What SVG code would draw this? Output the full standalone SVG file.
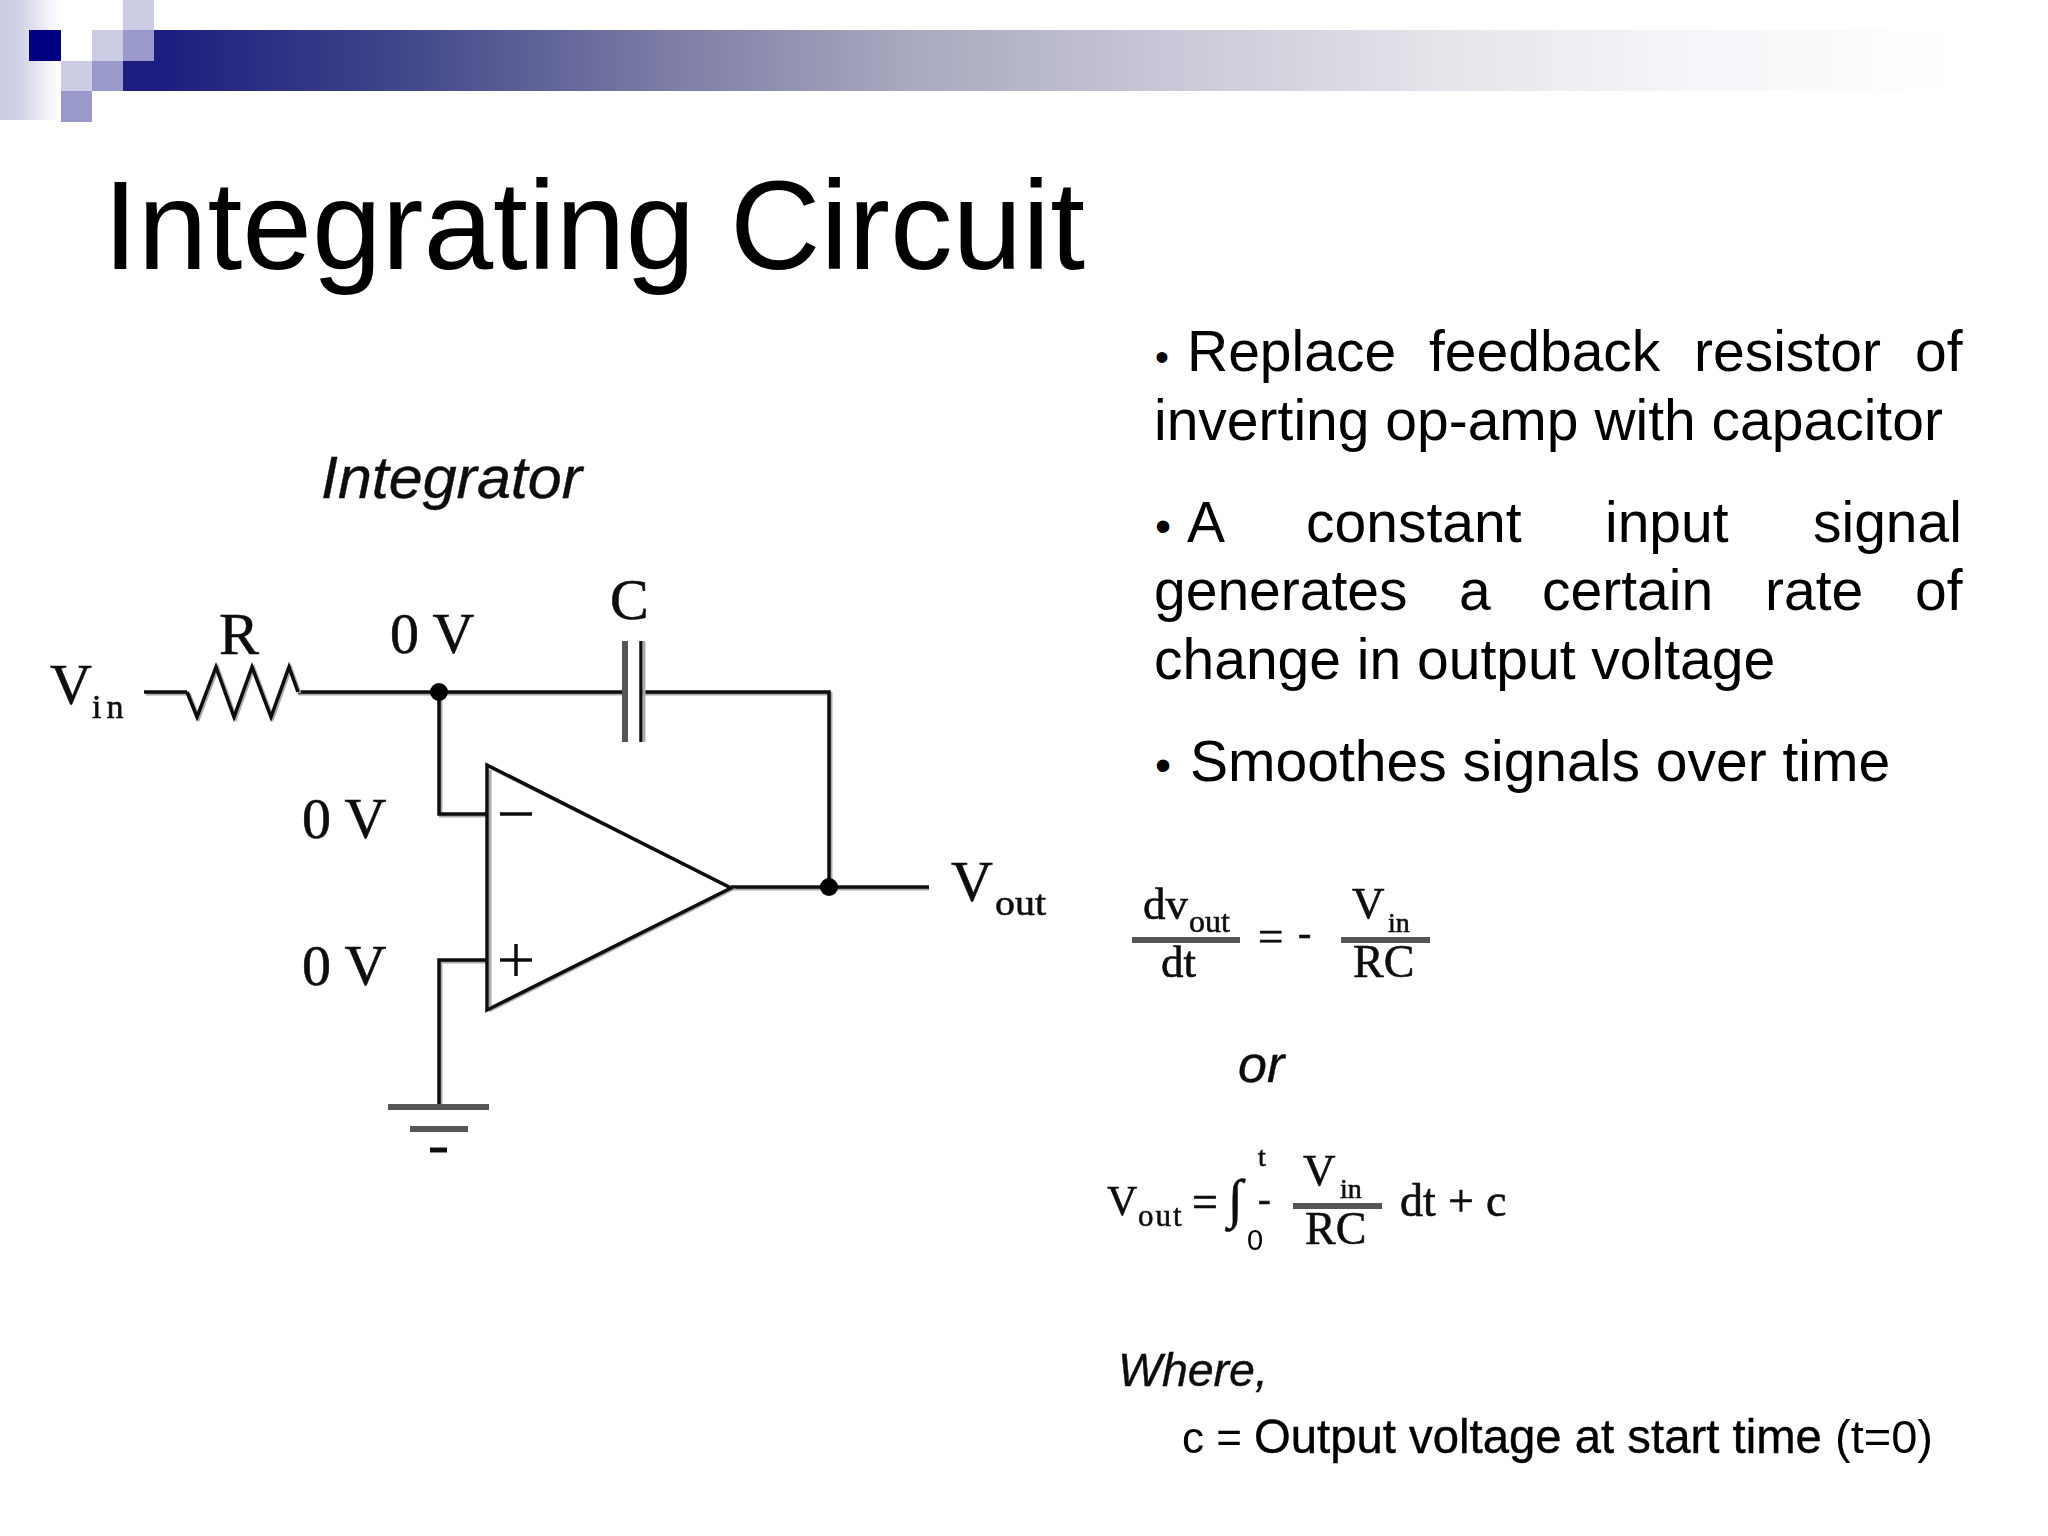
<svg xmlns="http://www.w3.org/2000/svg" width="2048" height="1536" viewBox="0 0 2048 1536">
<style>
.s{font-family:"Liberation Sans",Arial,sans-serif;fill:#000}
.i{font-family:"Liberation Sans",Arial,sans-serif;font-style:italic;fill:#111;stroke:#111;stroke-width:.4}
.t{font-family:"Liberation Serif","Times New Roman",serif;fill:#111;stroke:#111;stroke-width:.6}
.b{font-size:57px}
.w{fill:none;stroke:#0c0c0c;stroke-width:3.5}
.sh{fill:none;stroke:#aaa;stroke-width:3}
.g{fill:none;stroke:#555;stroke-width:6}
</style>
<defs>
<linearGradient id="band" gradientUnits="userSpaceOnUse" x1="123" x2="1960" y1="0" y2="0"><stop offset="0.02" stop-color="#1d1d80"/><stop offset="0.147" stop-color="#3e4588"/><stop offset="0.29" stop-color="#7a7aa5"/><stop offset="0.43" stop-color="#a9a9bf"/><stop offset="0.57" stop-color="#c8c8d8"/><stop offset="0.715" stop-color="#e4e4ea"/><stop offset="0.858" stop-color="#f6f6fa"/><stop offset="1" stop-color="#ffffff"/></linearGradient>
<linearGradient id="fade" x1="0" x2="1" y1="0" y2="0"><stop offset="0" stop-color="#ccccE4"/><stop offset="0.25" stop-color="#ccccE4"/><stop offset="1" stop-color="#ffffff"/></linearGradient>
<filter id="soft" x="-5%" y="-5%" width="110%" height="110%"><feGaussianBlur stdDeviation="0.6"/></filter>
</defs>
<rect width="2048" height="1536" fill="#fff"/>
<g id="header">
<rect x="0" y="0" width="60" height="120" fill="url(#fade)"/>
<rect x="123" y="30" width="1837" height="61" fill="url(#band)"/>
<rect x="29" y="30" width="32" height="31" fill="#000080"/>
<rect x="92" y="30" width="31" height="31" fill="#ccccE4"/>
<rect x="123" y="0" width="31" height="30" fill="#ccccE4"/>
<rect x="123" y="30" width="31" height="31" fill="#9999CC"/>
<rect x="61" y="61" width="31" height="30" fill="#ccccE4"/>
<rect x="92" y="61" width="31" height="30" fill="#9999CC"/>
<rect x="61" y="91" width="31" height="31" fill="#9999CC"/>
</g>
<text id="title" class="s" x="103" y="269" font-size="125.3">Integrating Circuit</text>
<g id="bullets">
<g class="s b">
<text x="1155" y="371" font-size="40">•</text>
<text x="1187" y="371">Replace</text><text x="1429" y="371">feedback</text><text x="1694" y="371">resistor</text><text x="1915" y="371">of</text>
<text x="1154" y="440">inverting op-amp with capacitor</text>
<text x="1155" y="542" font-size="46">•</text>
<text x="1187" y="542">A</text><text x="1306" y="542">constant</text><text x="1605" y="542">input</text><text x="1813" y="542">signal</text>
<text x="1154" y="610">generates</text><text x="1459" y="610">a</text><text x="1542" y="610">certain</text><text x="1765" y="610">rate</text><text x="1915" y="610">of</text>
<text x="1154" y="679">change in output voltage</text>
<text x="1155" y="781" font-size="46">•</text>
<text x="1190" y="781">Smoothes signals over time</text>
</g>
</g>
<g filter="url(#soft)">
<text id="circuit-title" class="i" x="321" y="498" font-size="60" textLength="261" lengthAdjust="spacingAndGlyphs">Integrator</text>
<g id="connectors">
<path class="sh" d="M146 694H187M298 694H624M641 694H829M831 692V887M441 692V814M487 962H441V1106M731 889H929"/>
<path class="sh" d="M439 816H487" stroke-width="5"/>
<path class="w" d="M144 692H187M298 692H624M641 692H829V887M439 692V814H487M487 960H439V1106M731 887H929"/>
</g>
<g id="vin"><text class="t" x="50" y="704" font-size="58">V</text><text class="t" x="92" y="718" font-size="34" letter-spacing="5">in</text></g>
<g id="resistor"><path class="sh" d="M189 693L199 718L218 668L236 718L254 668L273 718L291 668L300 693"/><path class="w" d="M187 692L197 717L216 667L234 717L252 667L271 717L289 667L298 692"/><text class="t" x="219" y="654" font-size="60">R</text></g>
<g id="node-in"><circle cx="439" cy="692" r="9" fill="#000"/><text class="t" x="390" y="653" font-size="58">0 V</text></g>
<g id="capacitor"><path class="g" d="M625 641V742"/><path class="w" d="M641 641V742"/><path class="sh" d="M644 641V742"/><text class="t" x="610" y="619" font-size="58">C</text></g>
<g id="opamp"><path class="sh" d="M490 770V1006M489 767L733 889L489 1011"/><path class="w" d="M487 765V1010L731 888Z"/><path class="w" d="M500 814H532M500 960H532M516 944V976"/><text class="t" x="302" y="838" font-size="58">0 V</text><text class="t" x="302" y="985" font-size="58">0 V</text></g>
<g id="node-out"><circle cx="829" cy="887" r="9" fill="#000"/></g>
<g id="vout"><text class="t" x="951" y="901" font-size="58">V</text><text class="t" x="995" y="915" font-size="36" textLength="51" lengthAdjust="spacingAndGlyphs">out</text></g>
<g id="ground"><path class="g" d="M388 1107H489M410 1129H468"/><path d="M430 1150H447" fill="none" stroke="#111" stroke-width="5"/></g>
<g id="equation-1">
<text class="t" x="1143" y="919" font-size="45">dv</text><text class="t" x="1189" y="932" font-size="32">out</text>
<path class="g" d="M1132 940H1240" stroke-width="5"/>
<text class="t" x="1161" y="977" font-size="45">dt</text>
<text class="t" x="1258" y="951" font-size="45">=</text><text class="t" x="1298" y="946" font-size="40">-</text>
<text class="t" x="1352" y="918" font-size="45">V</text><text class="t" x="1388" y="932" font-size="28">in</text>
<path class="g" d="M1341 940H1430" stroke-width="5"/>
<text class="t" x="1353" y="977" font-size="46">RC</text>
</g>
<text id="or" class="i" x="1238" y="1082" font-size="52">or</text>
<g id="equation-2">
<text class="t" x="1107" y="1215" font-size="42">V</text><text class="t" x="1138" y="1226" font-size="31" letter-spacing="2">out</text>
<text class="t" x="1192" y="1217" font-size="46">=</text>
<text class="t" x="1228" y="1217" font-size="54" stroke-width="0">∫</text>
<text class="t" x="1258" y="1166" font-size="28">t</text><text class="s" x="1247" y="1250" font-size="29">0</text>
<text class="t" x="1258" y="1212" font-size="38">-</text>
<text class="t" x="1303" y="1185" font-size="45">V</text><text class="t" x="1340" y="1198" font-size="28">in</text>
<path class="g" d="M1293 1206H1382" stroke-width="5"/>
<text class="t" x="1305" y="1244" font-size="46">RC</text>
<text class="t" x="1400" y="1216" font-size="46">dt</text><text class="t" x="1448" y="1216" font-size="46">+</text><text class="t" x="1486" y="1216" font-size="46">c</text>
</g>
<g id="where">
<text class="i" x="1118" y="1386" font-size="46.5">Where,</text>
<text class="s" x="1182" y="1453" font-size="44">c =</text>
<text class="s" x="1254" y="1453" font-size="47.3" stroke="#000" stroke-width=".4">Output voltage at start time</text>
<text class="s" x="1835" y="1453" font-size="47">(t=0)</text>
</g>
</g>
</svg>
